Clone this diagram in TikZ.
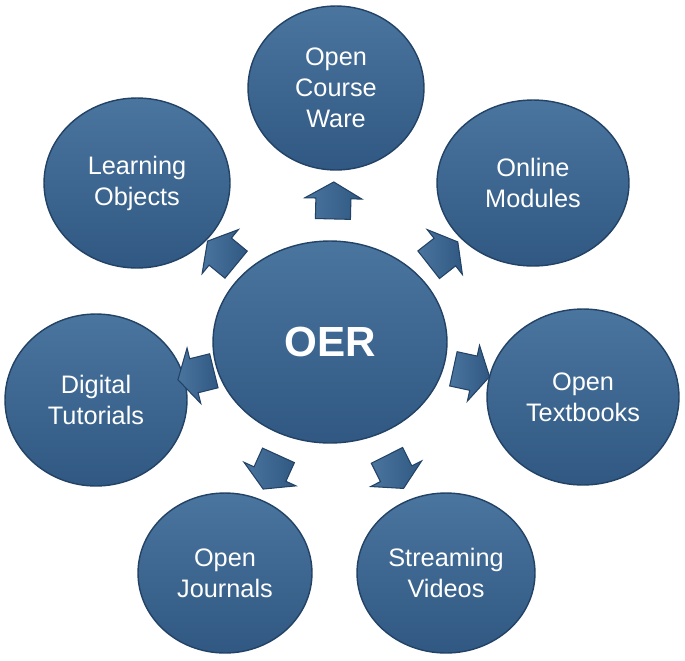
\documentclass[tikz,border=0pt]{standalone}
\usepackage{fontspec}
\setmainfont{Liberation Sans}
\usetikzlibrary{shapes.geometric, shapes.arrows}

\definecolor{oerlight}{RGB}{74,117,158}
\definecolor{oerdark}{RGB}{48,88,130}
\definecolor{oeredge}{RGB}{34,66,102}

\begin{document}
\begin{tikzpicture}[x=0.02cm, y=-0.02cm,
    bubble/.style={ellipse, inner sep=0pt, top color=oerlight, bottom color=oerdark,
        draw=oeredge, line width=0.8pt, text=white, align=center,
        font=\fontsize{14.4}{17.6}\selectfont},
    push/.style={single arrow, inner xsep=0pt, inner ysep=0.34cm, minimum height=0.74cm,
        single arrow head extend=0.22cm, single arrow tip angle=120,
        left color=oerlight, right color=oerdark, draw=oeredge, line width=0.6pt,
        sloped, allow upside down}]
    \useasboundingbox (0,0) rectangle (685,660);
    \node[bubble, minimum width=4.68cm, minimum height=4.04cm,
        font=\fontsize{24}{28}\selectfont\bfseries] (oer) at (330,342) {OER};
    \node[bubble, minimum width=3.52cm, minimum height=3.28cm] (ocw) at (336,88) {Open\\Course\\Ware};
    \node[bubble, minimum width=3.84cm, minimum height=3.32cm] (onl) at (533,183) {Online\\Modules};
    \node[bubble, minimum width=3.84cm, minimum height=3.52cm] (otb) at (583,397) {Open\\Textbooks};
    \node[bubble, minimum width=3.56cm, minimum height=3.2cm] (stv) at (446,573) {Streaming\\Videos};
    \node[bubble, minimum width=3.48cm, minimum height=3.2cm] (ojn) at (225,573) {Open\\Journals};
    \node[bubble, minimum width=3.64cm, minimum height=3.44cm] (dtu) at (96,400) {Digital\\Tutorials};
    \node[bubble, minimum width=3.72cm, minimum height=3.4cm] (lob) at (137,183) {Learning\\Objects};
    \foreach \t in {ocw,onl,otb,stv,ojn,dtu,lob}
        \path (oer) -- node[push] {} (\t);
\end{tikzpicture}
\end{document}
